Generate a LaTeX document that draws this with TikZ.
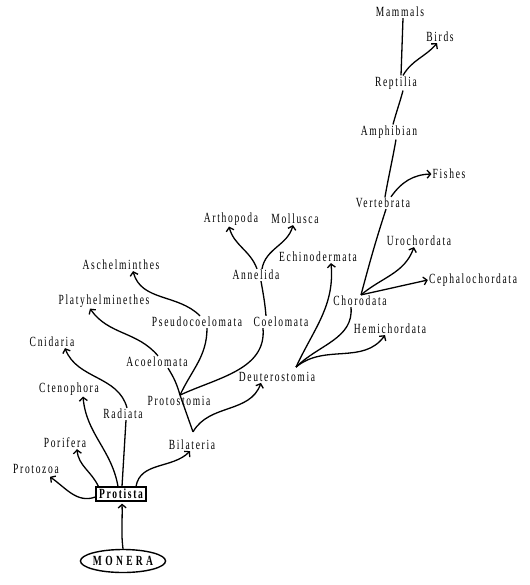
\documentclass[tikz,border=0pt]{standalone}
\usepackage{fontspec}
\usepackage{tikz}
\usetikzlibrary{arrows.meta,shapes.geometric,calc}
\newfontfamily\taxfam[FakeStretch=0.68,LetterSpace=12]{Liberation Serif}
\newfontfamily\monerafam[FakeStretch=0.68,LetterSpace=24]{Liberation Serif}
\tikzstyle{link} = [line width=1.3pt]
\tikzstyle{arrow} = [line width=1.3pt,->,>={Straight Barb[length=3.5pt,width=8pt]}]
\tikzstyle{taxon} = [inner sep=1pt,font=\taxfam\fontsize{14}{16}\selectfont]

\begin{document}
\begin{tikzpicture}[x=1pt,y=1pt]
\useasboundingbox (0,0) rectangle (529,-585);
% Roots
\node[draw, ellipse, line width=1.4pt, minimum width=80pt, minimum height=23pt, inner sep=0pt,
  font=\monerafam\bfseries\fontsize{14}{16}\selectfont] (monera) at (123,-561) {MONERA};
\node[draw, line width=1.2pt, minimum width=50pt, minimum height=14pt, inner sep=1pt,
  font=\taxfam\bfseries\fontsize{14}{16}\selectfont] (protista) at (121,-494) {Protista};

% Labels
\node[taxon] (protoz) at (36,-469) {Protozoa};
\node[taxon] (porif) at (65,-443) {Porifera};
\node[taxon] (bilat) at (192,-445) {Bilateria};
\node[taxon] (radiata) at (123,-414) {Radiata};
\node[taxon] (proto) at (179,-401) {Protostomia};
\node[taxon] (cteno) at (69,-389) {Ctenophora};
\node[taxon] (deut) at (277,-377) {Deuterostomia};
\node[taxon] (acoel) at (157,-362) {Acoelomata};
\node[taxon] (cnid) at (52,-342) {Cnidaria};
\node[taxon] (hemi) at (390,-329) {Hemichordata};
\node[taxon] (pseudo) at (197,-322) {Pseudocoelomata};
\node[taxon] (coel) at (281,-322) {Coelomata};
\node[taxon] (platy) at (104,-301) {Platyhelminethes};
\node[taxon] (choro) at (360,-301) {Chorodata};
\node[taxon] (ceph) at (473,-280) {Cephalochordata};
\node[taxon] (annel) at (256,-275) {Annelida};
\node[taxon] (assch) at (121,-265) {Aschelminthes};
\node[taxon] (echino) at (318,-257) {Echinodermata};
\node[taxon] (uro) at (419,-241) {Urochordata};
\node[taxon] (arth) at (231,-219) {Arthopoda};
\node[taxon] (moll) at (295,-219) {Mollusca};
\node[taxon] (vert) at (383,-203) {Vertebrata};
\node[taxon] (fishes) at (449,-174) {Fishes};
\node[taxon] (amph) at (389,-132) {Amphibian};
\node[taxon] (rept) at (396,-83) {Reptilia};
\node[taxon] (birds) at (440,-37) {Birds};
\node[taxon] (mammals) at (400,-12) {Mammals};

% Branch points
\coordinate (protoj) at ([xshift=1pt]proto.north);
\coordinate (bilj) at ([xshift=1pt,yshift=7pt]bilat.north);
\coordinate (deutj) at ([xshift=19pt,yshift=4pt]deut.north);
\coordinate (chorj) at ([xshift=1pt]choro.north);

% Protista and below
\draw[arrow] (monera.north) to[out=97,in=-88] ([xshift=1pt,yshift=-2pt]protista.south);
\draw[arrow] ([yshift=-3pt]protista.west) to[out=200,in=-35] ([xshift=14pt,yshift=-2pt]protoz.south);
\draw[arrow] ([xshift=3pt]protista.north west) to[out=115,in=-85] ([xshift=12pt]porif.south);
\draw[arrow] ([xshift=-3pt]protista.north) to[out=100,in=-85] ([xshift=14pt]cteno.south);
\draw[link] ([xshift=1pt]protista.north) -- ([xshift=3pt]radiata.south);
\draw[arrow] ([xshift=4pt]radiata.north) to[out=105,in=-69] ([xshift=13pt]cnid.south);
\draw[arrow] ([xshift=15pt]protista.north) to[out=80,in=-135] ([xshift=-2pt]bilat.south);

% Protostomia side
\draw[link] (bilj) -- (protoj);
\draw[link] (protoj) to[bend right=8] ([xshift=11pt]acoel.south);
\draw[arrow] ([xshift=1pt]acoel.north) to[out=130,in=-55] ([xshift=-14pt]platy.south);
\draw[link] (protoj) to[out=65,in=-90] ([xshift=10pt]pseudo.south);
\draw[arrow] ([xshift=3pt]pseudo.north) to[out=135,in=-75] ([xshift=12pt]assch.south);
\draw[link] (protoj) to[out=25,in=-85] ([xshift=-18pt]coel.south);
\draw[link] ([xshift=-15pt]coel.north) to[out=95,in=-80] ([xshift=5pt]annel.south);
\draw[arrow] ([xshift=1pt]annel.north) to[out=110,in=-75] ([xshift=-2pt]arth.south);
\draw[arrow] ([xshift=6pt]annel.north) to[out=80,in=-105] ([xshift=-2pt]moll.south);

% Deuterostomia side
\draw[arrow] (bilj) to[out=60,in=-110] ([xshift=-16pt]deut.south);
\draw[arrow] (deutj) to[out=65,in=-85] ([xshift=13pt]echino.south);
\draw[link] (deutj) to[out=45,in=-85] ([xshift=-9pt]choro.south);
\draw[arrow] (deutj) to[out=40,in=-126] ([xshift=-5pt]hemi.south);
\draw[link] (chorj) to[out=75,in=-108] ([xshift=3pt]vert.south);
\draw[arrow] (chorj) to[out=40,in=-110] ([xshift=-5pt]uro.south);
\draw[arrow] (chorj) -- (ceph.west);
\draw[link] ([xshift=2pt]vert.north) to[out=80,in=-100] ([xshift=7pt]amph.south);
\draw[arrow] ([xshift=8pt]vert.north) to[out=55,in=182] (fishes.west);
\draw[link] ([xshift=4pt]amph.north) to[out=75,in=-105] ([xshift=7pt]rept.south);
\draw[link] ([xshift=5pt]rept.north) -- ([xshift=3pt]mammals.south);
\draw[arrow] ([xshift=7pt]rept.north) to[out=60,in=-130] ([xshift=-3pt]birds.south);
\end{tikzpicture}
\end{document}
